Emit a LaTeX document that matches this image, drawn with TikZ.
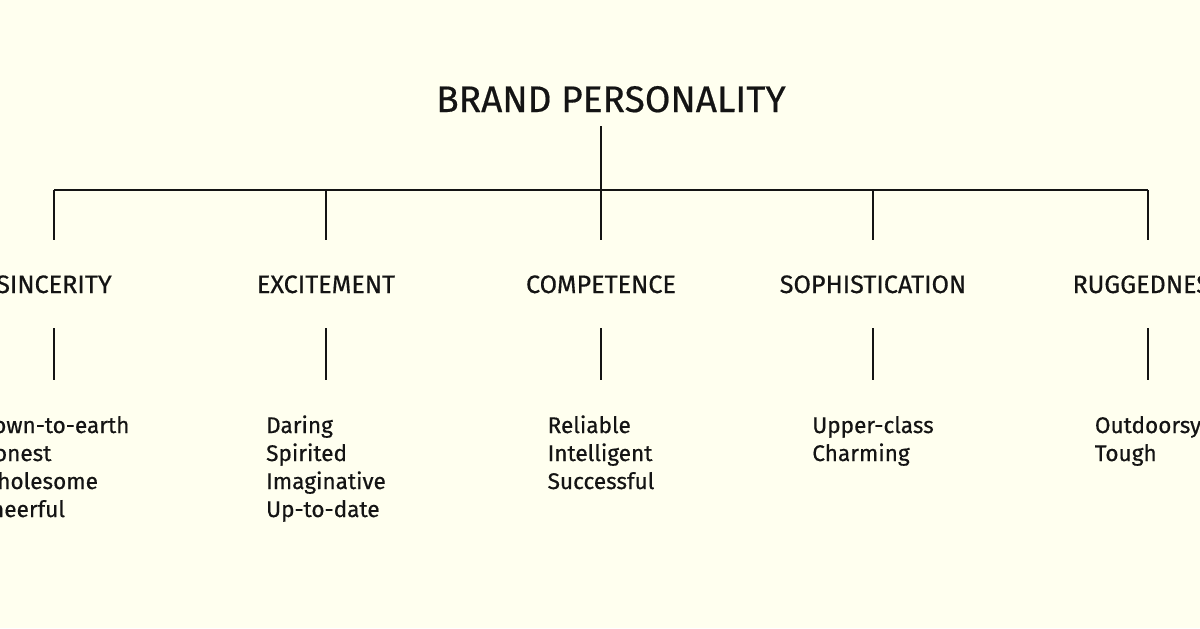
\documentclass[tikz,border=0pt]{standalone}
\usepackage{fontspec}
\setmainfont{Fira Sans}
\newfontfamily\dinfont[FakeBold=0.5]{Fira Sans}
\definecolor{bg}{HTML}{FFFFEF}
\definecolor{ink}{HTML}{141414}
\begin{document}
\begin{tikzpicture}[x=0.5pt,y=-0.5pt,
  title/.style={anchor=base,inner sep=0pt,text=ink,font=\dinfont\fontsize{18.5}{20}\selectfont},
  cat/.style={anchor=base,inner sep=0pt,text=ink,font=\dinfont\fontsize{12.6}{15}\selectfont},
  items/.style={anchor=base,inner sep=0pt,text=ink,font=\dinfont\fontsize{11.3}{14}\selectfont},
  conn/.style={draw=ink,line width=1pt}]
\fill[bg] (0,0) rectangle (1200,628);
\useasboundingbox (0,0) rectangle (1200,628);
\clip (0,0) rectangle (1200,628);
\newcommand{\itemlist}[1]{\begin{tabular}[t]{@{}l@{}}#1\end{tabular}}
\node[title] (t) at (611,112) {BRAND PERSONALITY};
\coordinate (ttop) at (601,126);
\coordinate (j) at (601,190);
\draw[conn] (ttop) -- (j);
\foreach \n/\x/\lab/\its in {
  a/54/SINCERITY/{Down-to-earth\\Honest\\Wholesome\\Cheerful},
  b/326/EXCITEMENT/{Daring\\Spirited\\Imaginative\\Up-to-date},
  c/601/COMPETENCE/{Reliable\\Intelligent\\Successful},
  d/873/SOPHISTICATION/{Upper-class\\Charming},
  e/1148/RUGGEDNESS/{Outdoorsy\\Tough}}{
  \coordinate (\n h) at (\x,190);
  \coordinate (\n l) at (\x,240);
  \coordinate (\n u) at (\x,328);
  \coordinate (\n v) at (\x,380);
  \node[cat] (\n c) at (\x,293) {\lab};
  \node[items] (\n i) at (\x,433) {\itemlist{\its}};
  \draw[conn] (\n h) -- (\n l);
  \draw[conn] (\n u) -- (\n v);
}
\draw[conn] (ah) -- (eh);
\end{tikzpicture}
\end{document}
